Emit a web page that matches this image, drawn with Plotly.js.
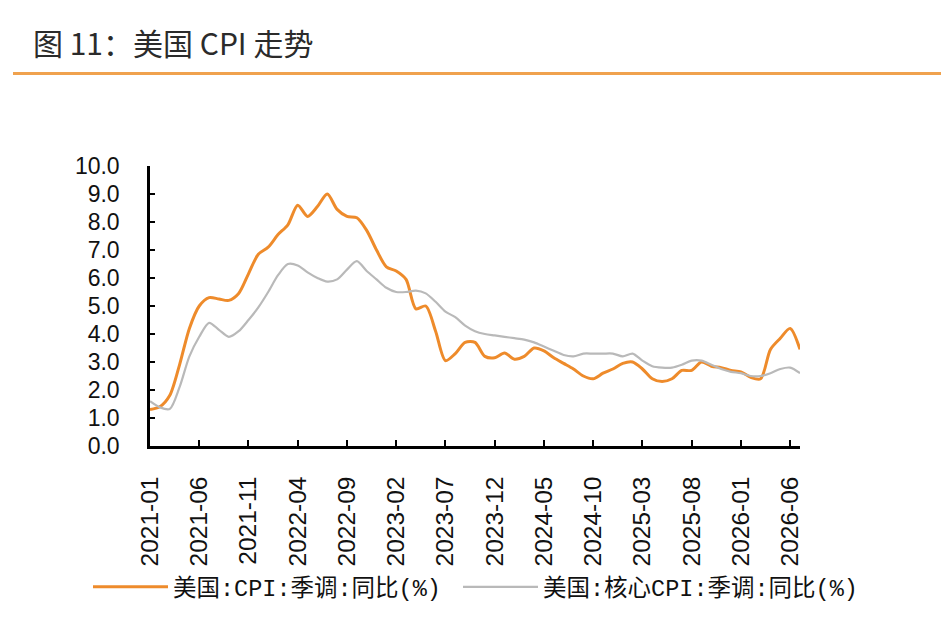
<!DOCTYPE html>
<html>
<head>
<meta charset="utf-8">
<script src="https://cdn.plot.ly/plotly-3.0.1.min.js"></script>
<style>
  html, body { margin: 0; padding: 0; background: #fff; }
  #plot { width: 946px; height: 630px; }
</style>
</head>
<body>
<div id="plot"></div>
<script>
const chartTitle = "图 11：美国 CPI 走势";
const seriesNames = ["美国:CPI:季调:同比(%)", "美国:核心CPI:季调:同比(%)"];

const months = [
  "2021-01", "2021-02", "2021-03", "2021-04", "2021-05", "2021-06", "2021-07", "2021-08", "2021-09", "2021-10", "2021-11", "2021-12",
  "2022-01", "2022-02", "2022-03", "2022-04", "2022-05", "2022-06", "2022-07", "2022-08", "2022-09", "2022-10", "2022-11", "2022-12",
  "2023-01", "2023-02", "2023-03", "2023-04", "2023-05", "2023-06", "2023-07", "2023-08", "2023-09", "2023-10", "2023-11", "2023-12",
  "2024-01", "2024-02", "2024-03", "2024-04", "2024-05", "2024-06", "2024-07", "2024-08", "2024-09", "2024-10", "2024-11", "2024-12",
  "2025-01", "2025-02", "2025-03", "2025-04", "2025-05", "2025-06", "2025-07", "2025-08", "2025-09", "2025-10", "2025-11", "2025-12",
  "2026-01", "2026-02", "2026-03", "2026-04", "2026-05", "2026-06", "2026-07"
];

// CPI, seasonally adjusted, YoY %
const cpi = [
  1.3, 1.4, 1.8, 2.9, 4.2, 5.0, 5.3, 5.25, 5.2, 5.45,
  6.15, 6.85, 7.1, 7.55, 7.9, 8.6, 8.2, 8.55, 9.0, 8.45,
  8.2, 8.15, 7.7, 7.0, 6.4, 6.25, 5.95, 4.9, 5.0, 4.1,
  3.05, 3.3, 3.7, 3.7, 3.2, 3.15, 3.32, 3.1, 3.2, 3.5,
  3.4, 3.15, 2.95, 2.75, 2.5, 2.4, 2.6, 2.75, 2.95, 3.0,
  2.75, 2.4, 2.3, 2.4, 2.7, 2.7, 3.0, 2.85, 2.8, 2.7,
  2.65, 2.45, 2.4, 3.45, 3.85, 4.2, 3.45
];

// core CPI, seasonally adjusted, YoY %
const coreCpi = [
  1.6, 1.38, 1.32, 2.1, 3.2, 3.9, 4.4, 4.15, 3.9, 4.1,
  4.5, 4.95, 5.5, 6.1, 6.5, 6.45, 6.2, 6.0, 5.87, 5.95,
  6.3, 6.6, 6.25, 5.95, 5.65, 5.5, 5.5, 5.55, 5.45, 5.15,
  4.8, 4.6, 4.3, 4.1, 4.0, 3.95, 3.9, 3.85, 3.8, 3.7,
  3.55, 3.4, 3.25, 3.2, 3.3, 3.3, 3.3, 3.3, 3.2, 3.3,
  3.05, 2.85, 2.8, 2.8, 2.9, 3.05, 3.05, 2.9, 2.75, 2.65,
  2.6, 2.5, 2.5, 2.6, 2.75, 2.8, 2.6
];

const tickMonths = [
  "2021-01", "2021-06", "2021-11", "2022-04", "2022-09", "2023-02", "2023-07",
  "2023-12", "2024-05", "2024-10", "2025-03", "2025-08", "2026-01", "2026-06"
];

const yTicks = [0, 1, 2, 3, 4, 5, 6, 7, 8, 9, 10];

const ORANGE = "#EE8B2B";
const GREY = "#B9B9B9";

const traces = [
  {
    x: months,
    y: cpi,
    type: "scatter",
    mode: "lines",
    name: seriesNames[0],
    legend: "legend",
    line: { color: ORANGE, width: 3, shape: "spline", smoothing: 0.8 },
    hoverinfo: "x+y",
  },
  {
    x: months,
    y: coreCpi,
    type: "scatter",
    mode: "lines",
    name: seriesNames[1],
    legend: "legend2",
    line: { color: GREY, width: 2.2, shape: "spline", smoothing: 0.8 },
    hoverinfo: "x+y",
  },
];

const xaxis = {
  type: "category",
  range: [0, months.length - 1],
  tickmode: "array",
  tickvals: tickMonths,
  ticktext: tickMonths,
  tickangle: -90,
  ticks: "inside",
  ticklen: 6,
  tickwidth: 2,
  tickcolor: "#000",
  showline: true,
  linecolor: "#000",
  linewidth: 2.5,
  showgrid: false,
  zeroline: false,
  ticklabelstandoff: 18,
  tickfont: { family: "Liberation Sans, Arial", size: 24.5, color: "#111" },
  fixedrange: true,
};

const yaxis = {
  range: [0, 10],
  tickmode: "array",
  tickvals: yTicks,
  tickformat: ".1f",
  ticks: "inside",
  ticklen: 5,
  tickwidth: 2,
  tickcolor: "#000",
  showline: true,
  linecolor: "#000",
  linewidth: 2.5,
  showgrid: false,
  zeroline: false,
  ticklabelstandoff: 23,
  tickfont: { family: "Liberation Sans, Arial", size: 23, color: "#111" },
  fixedrange: true,
};

const legendStyle = {
  orientation: "h",
  xref: "paper",
  yref: "paper",
  xanchor: "left",
  y: (446 - 587) / 280,
  yanchor: "middle",
  itemwidth: 75,
  font: { family: "Liberation Mono, Noto Sans CJK SC", size: 23.5, color: "#111" },
  bgcolor: "rgba(0,0,0,0)",
};

const layout = {
  width: 946,
  height: 630,
  margin: { l: 150, r: 146, t: 166, b: 184 },
  paper_bgcolor: "#fff",
  plot_bgcolor: "#fff",
  title: {
    text: chartTitle,
    font: { family: "Noto Sans CJK SC", size: 30, color: "#2b2b2b" },
    xref: "container",
    yref: "container",
    x: 33 / 946,
    xanchor: "left",
    y: 1 - 44 / 630,
    yanchor: "middle",
  },
  xaxis,
  yaxis,
  showlegend: true,
  legend: { ...legendStyle, x: (88 - 150) / 650 },
  legend2: { ...legendStyle, x: (458 - 150) / 650 },
  shapes: [
    {
      type: "line",
      xref: "paper",
      yref: "paper",
      x0: (13 - 150) / 650,
      x1: (941 - 150) / 650,
      y0: (446 - 73.5) / 280,
      y1: (446 - 73.5) / 280,
      line: { color: "#F0A24E", width: 3 },
    },
  ],
};

Plotly.newPlot(document.getElementById("plot"), traces, layout, {
  displayModeBar: false,
  responsive: false,
});
</script>
</body>
</html>
